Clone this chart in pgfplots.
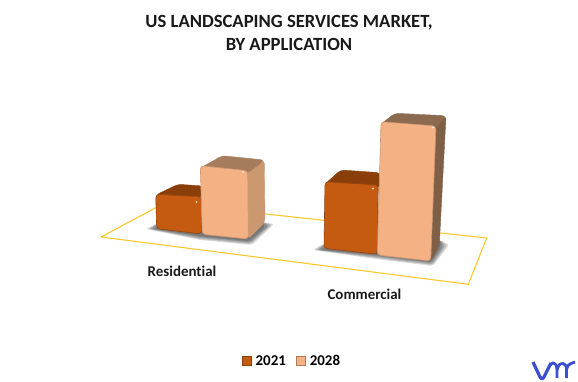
\documentclass[border=0pt]{standalone}
\usepackage{pgfplots}
\pgfplotsset{compat=1.18}
\usepackage{fontspec}
\setmainfont[Ligatures=NoCommon]{Carlito}
\definecolor{cA}{HTML}{C55A11}
\definecolor{cB}{HTML}{F4B183}
\definecolor{cAtop}{HTML}{8A3F0A}
\definecolor{cBtop}{HTML}{A67C5C}
\definecolor{cBside}{HTML}{CC9870}
\definecolor{cBtop2}{HTML}{8C6A50}
\definecolor{cBside2}{HTML}{7F5F45}
\definecolor{plane}{HTML}{FFC72C}
\definecolor{logo}{HTML}{3B4FD0}
\pgfplotsset{
  shad/.style={fill=black,fill opacity=0.14,draw=none,forget plot,rounded corners=2pt},
  face/.style={rounded corners=3.5pt,forget plot},
}
\begin{document}
\begin{tikzpicture}
\begin{axis}[
  at={(0,0)},anchor=south west,
  scale only axis, width=578bp, height=382bp,
  xmin=0,xmax=578,ymin=0,ymax=382,y dir=reverse,
  hide axis, clip=false,
  legend style={at={(rel axis cs:0.505,0.055)},anchor=center,draw=none,fill=none,
    legend columns=2,font=\bfseries\fontsize{15}{15}\selectfont,
    /tikz/every odd column/.style={column sep=2.5bp},
    /tikz/every even column/.style={column sep=8bp},inner sep=0pt},
  legend image code/.code={\draw[#1] (0bp,-4.5bp) rectangle (9bp,4.5bp);},
]
\addlegendimage{fill=cA,draw=cA!70!black}
\addlegendimage{fill=cB,draw=cB!70!black}
\legend{2021,2028}
% ground plane
\addplot[plane,line width=1.1bp,forget plot] coordinates {(101,237)(164.5,203)(486.7,238)(468.3,284.3)(101,237)};
% shadows
\addplot[shad] coordinates {(146,229)(160,222)(262,222)(274,224)(252,245)(200,240)} -- cycle;
\addplot[shad] coordinates {(148,229)(160,222)(262,222)(272,224.5)(251,244)(200,239)} -- cycle;
\addplot[shad] coordinates {(150,229)(160,222)(262,222)(270,225)(250.5,243)(200,238)} -- cycle;
\addplot[shad] coordinates {(152,229)(160,222)(262,222)(268,226)(250,242)(200,237)} -- cycle;
\addplot[shad] coordinates {(155,229)(160,222)(262,222)(265,227)(249,241)(200,236)} -- cycle;
\addplot[shad] coordinates {(313,250)(330,240)(440,240)(449,245)(433,266)(376,259)} -- cycle;
\addplot[shad] coordinates {(315,250)(330,240)(440,240)(447,245)(432.5,265)(376,258)} -- cycle;
\addplot[shad] coordinates {(317,250)(330,240)(440,240)(445,245.5)(432,264)(376,257)} -- cycle;
\addplot[shad] coordinates {(319,250)(330,240)(440,240)(443,246)(431.5,263)(376,256)} -- cycle;
\addplot[shad] coordinates {(322,250)(330,240)(440,240)(441,246)(431,262)(376,255)} -- cycle;
% Residential 2021
\addplot[face,fill=cAtop,draw=cAtop] coordinates {(155.7,195)(178,184.3)(203,186)(203,197)} -- cycle;
\addplot[face,fill=cA,draw=cA!75!black,line width=0.6bp] coordinates {(155.7,194.3)(201.7,196.7)(201.7,234)(156.7,228.7)} -- cycle;
% Residential 2028
\addplot[face,fill=cBside,draw=cBside] coordinates {(245,170.7)(264.3,160)(265,221.7)(248.3,239)} -- cycle;
\addplot[face,fill=cBtop,draw=cBtop] coordinates {(200.3,168)(222.3,155.7)(264.3,160)(247.7,173)} -- cycle;
\addplot[face,fill=cB,draw=cB!85!black,line width=0.6bp] coordinates {(200.3,165.7)(247.7,170.7)(248.3,239)(202.3,234.3)} -- cycle;
% Commercial 2021
\addplot[face,fill=cAtop,draw=cAtop] coordinates {(325,184)(340.7,170)(380,172.7)(380,188)} -- cycle;
\addplot[face,fill=cA,draw=cA!75!black,line width=0.6bp] coordinates {(325,181.7)(378.3,185)(377.3,254.3)(324,248.3)} -- cycle;
% Commercial 2028
\addplot[face,fill=cBside2,draw=cBside2] coordinates {(433,126)(446,115.7)(439.3,245)(430.7,261)} -- cycle;
\addplot[face,fill=cBtop2,draw=cBtop2] coordinates {(381,124)(395,113.3)(446,115.7)(436,128)} -- cycle;
\addplot[face,fill=cB,draw=cB!85!black,line width=0.6bp] coordinates {(381,121.7)(436,126)(430.7,261)(377.3,255)} -- cycle;
% highlights
\addplot[only marks,mark=*,mark size=0.8bp,color=white,opacity=0.6,forget plot] coordinates {(196.5,202)(243,172)(373,188.5)(433,127.5)};
% logo
\addplot[logo,line width=3.2bp,line join=round,forget plot] coordinates {(533,362)(540,377)(542,379)(544,377)(551,363)};
\addplot[logo,line width=2.8bp,smooth,forget plot] coordinates {(550,365)(553,363)(556,365)(557,370)(557,378)};
\addplot[logo,line width=2.8bp,smooth,forget plot] coordinates {(557,370)(559,365)(563,363.5)(566,366)(566.5,370)(566.5,378)};
\addplot[logo,line width=2.8bp,smooth,forget plot] coordinates {(566.5,370)(568,365.5)(571,363.5)(575,362)};
% text
\node[font=\bfseries\fontsize{18.7}{23}\selectfont,align=center,text=black!90] at (axis cs:289,33) {US LANDSCAPING SERVICES MARKET,\\BY APPLICATION};
\node[font=\bfseries\fontsize{15}{15}\selectfont,text=black!90] at (axis cs:182,271) {Residential};
\node[font=\bfseries\fontsize{15}{15}\selectfont,text=black!90] at (axis cs:364.5,294) {Commercial};
\end{axis}
\path (0,0) rectangle (578bp,382bp);
\end{tikzpicture}
\end{document}
